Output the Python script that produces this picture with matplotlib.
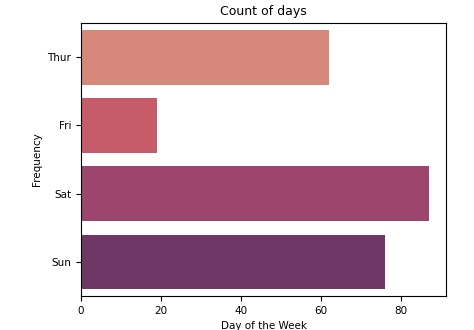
import matplotlib
matplotlib.use("Agg")
import matplotlib.pyplot as plt

days = ["Thur", "Fri", "Sat", "Sun"]
counts = [62, 19, 87, 76]
colors = ["#d6887a", "#c65c6a", "#9c466e", "#6f3766"]

plt.rcParams["font.size"] = 7.5

fig = plt.figure(figsize=(4.74, 3.30), dpi=100)
ax = fig.add_axes([0.171, 0.103, 0.770, 0.827])

ax.barh(range(len(days)), counts, height=0.8, color=colors)
ax.set_yticks(range(len(days)))
ax.set_yticklabels(days)
ax.set_ylim(len(days) - 0.5, -0.5)
ax.set_xlim(0, max(counts) * 1.05)
ax.set_xticks([0, 20, 40, 60, 80])

ax.set_title("Count of days", fontsize=9)
ax.set_xlabel("Day of the Week")
ax.set_ylabel("Frequency")

fig.savefig("out.png", dpi=100)
